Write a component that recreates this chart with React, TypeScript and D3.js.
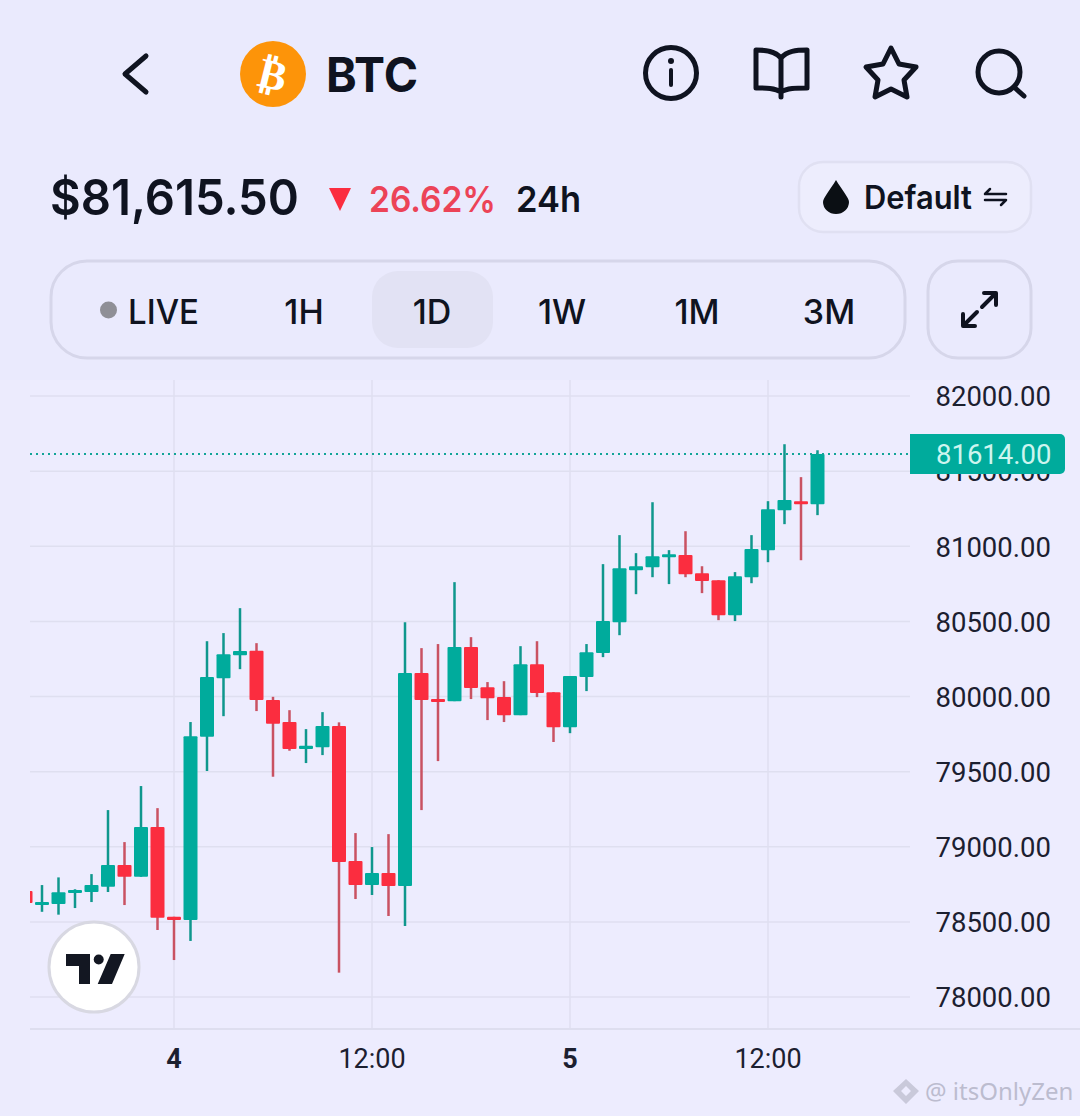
import { useEffect, useRef } from "react";
import * as d3 from "d3";

// hourly candles, first one is clipped by the left edge of the pane
const opens = [78705, 78612, 78619, 78694, 78699, 78734, 78878, 78800, 79131, 78534, 78512, 79732, 80122, 80275, 80304, 79976, 79830, 79650, 79663, 79803, 78905, 78745, 78825, 78738, 80156, 79983, 79969, 80329, 80062, 79996, 79876, 80215, 80029, 79796, 80129, 80289, 80495, 80841, 80861, 80927, 80941, 80821, 80774, 80541, 80794, 80974, 81240, 81300, 81280];
const highs = [78705, 78745, 78796, 78717, 78818, 79244, 79031, 79404, 79257, 78534, 79830, 80368, 80422, 80588, 80355, 79998, 79909, 79783, 79896, 79828, 79091, 78998, 79084, 80495, 80322, 80349, 80761, 80395, 80096, 80102, 80335, 80368, 80029, 80136, 80349, 80881, 81074, 80954, 81293, 80974, 81100, 80867, 80774, 80828, 81074, 81300, 81679, 81460, 81639];
const lows = [78625, 78567, 78548, 78592, 78632, 78699, 78612, 78800, 78446, 78246, 78373, 79504, 79869, 80182, 79903, 79466, 79639, 79557, 79610, 78162, 78652, 78679, 78539, 78472, 79244, 79570, 79969, 79983, 79843, 79830, 79876, 79996, 79697, 79756, 80036, 80262, 80408, 80681, 80794, 80748, 80794, 80688, 80508, 80502, 80754, 80894, 81147, 80907, 81207];
const closes = [78625, 78632, 78697, 78712, 78745, 78878, 78800, 79131, 78528, 78512, 79736, 80129, 80282, 80302, 79976, 79818, 79650, 79672, 79803, 78898, 78745, 78825, 78738, 80156, 79976, 79969, 80329, 80056, 79989, 79876, 80215, 80023, 79796, 80136, 80295, 80502, 80854, 80867, 80934, 80947, 80814, 80768, 80541, 80801, 80981, 81247, 81307, 81280, 81614];

const priceTicks = [78000, 78500, 79000, 79500, 80000, 80500, 81000, 81500, 82000];
const timeTickBars = [9, 21, 33, 45];
const timeTickLabels = ["4", "12:00", "5", "12:00"];
const lastPrice = 81614;

const periods = ["1H", "1D", "1W", "1M", "3M"];
const periodX = [304, 432, 562, 697, 829];

const UP = "#00ab9c";
const DOWN = "#fb2d3f";
const UP_WICK = "#0f978d";
const DOWN_WICK = "#c95262";
const GRID = "#dfdff0";
const INK = "#0f1320";
const FONT = "Inter, Roboto, sans-serif";

const width = 1080;
const height = 1116;
const pane = { left: 30, right: 910, top: 380, bottom: 1029 };

const y = d3.scaleLinear().domain([78000, 82000]).range([997, 396]);
const x = d3.scaleLinear().domain([0, 48]).range([25.5, 817.5]);

function PriceAxis() {
  const ref = useRef<SVGGElement>(null);
  useEffect(() => {
    if (ref.current) {
      const g = d3
        .select(ref.current)
        .call(
          d3
            .axisRight(y)
            .tickValues(priceTicks)
            .tickFormat(d3.format(".2f") as any)
            .tickSize(0)
            .tickPadding(0)
            .offset(0)
        );
      g.select(".domain").remove();
      g.selectAll("text")
        .attr("font-family", "Roboto, sans-serif")
        .attr("font-size", 27.5)
        .attr("fill", "#1c2030");
    }
  }, []);
  return <g ref={ref} transform="translate(935.5,1.5)" />;
}

function TimeAxis() {
  const ref = useRef<SVGGElement>(null);
  useEffect(() => {
    if (ref.current) {
      const g = d3
        .select(ref.current)
        .call(
          d3
            .axisBottom(x)
            .tickValues(timeTickBars)
            .tickFormat((_, i) => timeTickLabels[i])
            .tickSize(0)
            .tickPadding(20)
            .offset(0)
        );
      g.select(".domain").remove();
      g.selectAll("text")
        .attr("font-family", "Roboto, sans-serif")
        .attr("font-size", 27)
        .attr("font-weight", (_, i) => (timeTickLabels[i].includes(":") ? 400 : 700))
        .attr("fill", "#1c2030");
    }
  }, []);
  return <g ref={ref} transform={`translate(0,${pane.bottom})`} />;
}

function Candles() {
  const bodyWidth = 14;
  return (
    <g clipPath="url(#pane)">
      {opens.map((open, i) => {
        const close = closes[i];
        const up = close >= open;
        const top = y(Math.max(open, close));
        const bottom = y(Math.min(open, close));
        return (
          <g key={`candle-${i}`}>
            <line
              x1={x(i)}
              x2={x(i)}
              y1={y(highs[i])}
              y2={y(lows[i])}
              stroke={up ? UP_WICK : DOWN_WICK}
              strokeWidth={2.5}
            />
            <rect
              x={x(i) - bodyWidth / 2}
              y={top}
              width={bodyWidth}
              height={Math.max(bottom - top, 3)}
              rx={1}
              fill={up ? UP : DOWN}
            />
          </g>
        );
      })}
    </g>
  );
}

function Header() {
  return (
    <g>
      <path d="M146 56 L125 74 L146 92" fill="none" stroke={INK} strokeWidth={5} strokeLinecap="round" strokeLinejoin="round" />
      <circle cx={273} cy={74} r={33} fill="#fd9409" />
      <text x={273} y={74} dy="0.36em" textAnchor="middle" fontFamily="DejaVu Sans" fontWeight={700} fontSize={42} fill="#fff" transform="rotate(14 273 74)">₿</text>
      <text x={326} y={92} fontFamily={FONT} fontWeight={700} fontSize={48} fill={INK} textLength={92} lengthAdjust="spacingAndGlyphs">BTC</text>

      <circle cx={671} cy={73} r={25.5} fill="none" stroke={INK} strokeWidth={5} />
      <circle cx={671} cy={61} r={3} fill={INK} />
      <line x1={671} x2={671} y1={70} y2={85} stroke={INK} strokeWidth={4} strokeLinecap="round" />

      <path d="M781 58 C775 51 766 50 756 50 L756 88 C766 88 775 88 781 92 C787 88 796 88 807 88 L807 50 C796 50 787 51 781 58 Z M781 58 L781 97" fill="none" stroke={INK} strokeWidth={5} strokeLinejoin="round" strokeLinecap="round" />

      <path d="M891 48 L899 64 L916 67 L904 80 L907 97 L891 89 L875 97 L878 80 L866 67 L883 64 Z" fill="none" stroke={INK} strokeWidth={5} strokeLinejoin="round" />

      <circle cx={999} cy={72} r={21} fill="none" stroke={INK} strokeWidth={5} />
      <line x1={1014} x2={1024} y1={87} y2={96} stroke={INK} strokeWidth={5} strokeLinecap="round" />

      <text x={50} y={215} fontFamily={FONT} fontWeight={600} fontSize={50} fill={INK} textLength={249} lengthAdjust="spacingAndGlyphs">$81,615.50</text>
      <path d="M329 188 L351 188 L340 211 Z" fill={DOWN} />
      <text x={369} y={212} fontFamily={FONT} fontWeight={600} fontSize={36} fill="#ec4357" textLength={127} lengthAdjust="spacingAndGlyphs">26.62%</text>
      <text x={516} y={212} fontFamily={FONT} fontWeight={600} fontSize={36} fill={INK} textLength={65} lengthAdjust="spacingAndGlyphs">24h</text>

      <rect x={799} y={162} width={232} height={70} rx={24} fill="#ededfd" stroke="#e0e0f2" strokeWidth={2.5} />
      <path d="M836 180 C830 190 823 198 823 202 A13 12 0 0 0 849 202 C849 198 842 190 836 180 Z" fill="#0b0f14" />
      <text x={864} y={209} fontFamily={FONT} fontWeight={600} fontSize={32} fill={INK} textLength={108} lengthAdjust="spacingAndGlyphs">Default</text>
      <path d="M990 189 L985 194 L1006 194 M1001 205 L1006 200 L985 200" fill="none" stroke={INK} strokeWidth={2.5} strokeLinecap="round" strokeLinejoin="round" />

      <rect x={51} y={261} width={854} height={97} rx={36} fill="none" stroke="#d6d6ea" strokeWidth={3} />
      <rect x={372} y={271} width={121} height={77} rx={26} fill="#e2e2f4" />
      <circle cx={108.5} cy={310} r={8.5} fill="#8f8f96" />
      <text x={128} y={324} fontFamily={FONT} fontWeight={500} fontSize={34} fill={INK} textLength={71} lengthAdjust="spacingAndGlyphs">LIVE</text>
      {periods.map((p, i) => (
        <text key={p} x={periodX[i]} y={324} textAnchor="middle" fontFamily={FONT} fontWeight={500} fontSize={34} fill={INK}>{p}</text>
      ))}

      <rect x={928} y={261} width={103} height={97} rx={30} fill="none" stroke="#d6d6ea" strokeWidth={3} />
      <path d="M984 293 L996 293 L996 305 M995 294 L982 307 M963 314 L963 326 L975 326 M964 325 L977 312" fill="none" stroke={INK} strokeWidth={4} strokeLinecap="round" strokeLinejoin="round" />
    </g>
  );
}

export default function App() {
  return (
    <svg
      width={width}
      height={height}
      viewBox={`0 0 ${width} ${height}`}
      style={{ position: "absolute", left: 0, top: 0, background: "#eaeafd" }}
    >
      <defs>
        <clipPath id="pane">
          <rect x={pane.left} y={pane.top} width={pane.right - pane.left} height={pane.bottom - pane.top} />
        </clipPath>
      </defs>
      <Header />

      <rect x={0} y={pane.top} width={width} height={height - pane.top} fill="#ecebfd" />
      <rect x={pane.left} y={pane.top} width={width - pane.left} height={height - pane.top} fill="#edecfe" />

      {priceTicks.map((t) => (
        <line key={`h-${t}`} x1={pane.left} x2={pane.right} y1={y(t)} y2={y(t)} stroke={GRID} strokeWidth={1.5} />
      ))}
      {timeTickBars.map((b) => (
        <line key={`v-${b}`} x1={x(b)} x2={x(b)} y1={pane.top} y2={pane.bottom} stroke={GRID} strokeWidth={1.5} />
      ))}
      <line x1={pane.left} x2={width} y1={pane.bottom} y2={pane.bottom} stroke="#dedeef" strokeWidth={2} />

      <PriceAxis />
      <TimeAxis />
      <Candles />

      <line x1={pane.left} x2={pane.right} y1={y(lastPrice)} y2={y(lastPrice)} stroke="#12a497" strokeWidth={2} strokeDasharray="2 4" />
      <path
        d={`M910 434 H1060 A5 5 0 0 1 1065 439 V469 A5 5 0 0 1 1060 474 H910 Z`}
        fill={UP}
      />
      <text x={936} y={y(lastPrice)} dy="0.38em" fontFamily="Roboto, sans-serif" fontSize={27.5} fill="#cdf5ef">
        {d3.format(".2f")(lastPrice)}
      </text>

      <circle cx={94} cy={967} r={45} fill="#fff" stroke="#d8d8e2" strokeWidth={3} />
      <path d="M66 954 H90 V984 H79 V966 H66 Z M110.7 954 H124.7 L112 984 H97.7 Z" fill="#131722" />
      <circle cx={98.7} cy={959.5} r={5} fill="#131722" />

      <path d="M906 1079 L919 1091 L906 1104 L893 1091 Z M906 1086 L911 1091 L906 1096 L901 1091 Z" fill="#c9c9da" fillRule="evenodd" />
      <text x={925} y={1100} fontFamily="Noto Sans, sans-serif" fontSize={24} fill="#bcbccf">@ itsOnlyZen</text>
    </svg>
  );
}
